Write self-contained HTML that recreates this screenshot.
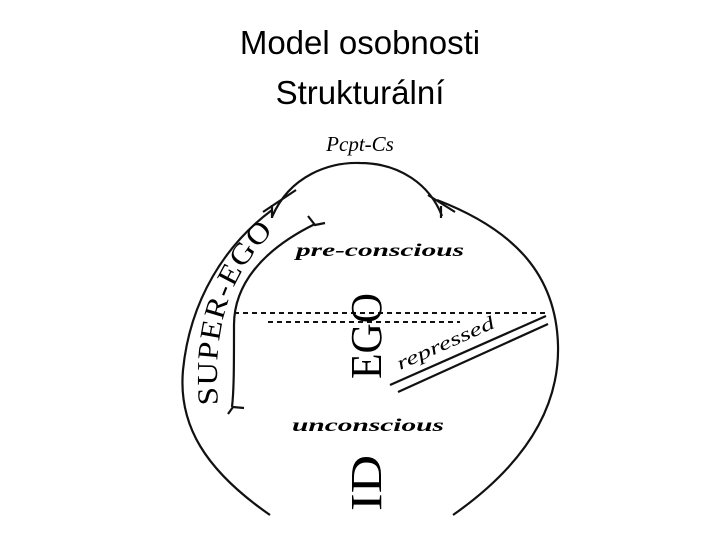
<!DOCTYPE html>
<html><head><meta charset="utf-8"><style>
html,body{margin:0;padding:0;background:#fff;}
body{width:720px;height:540px;overflow:hidden;position:relative;}
.t{position:absolute;left:0;width:720px;text-align:center;font-family:"Liberation Sans",sans-serif;font-size:33px;color:#000;}
</style></head><body>
<div class="t" style="top:24px">Model osobnosti</div>
<div class="t" style="top:74px">Strukturální</div>
<svg width="720" height="540" style="position:absolute;left:0;top:0" font-family="Liberation Serif, serif">
<g fill="none" stroke="#111" stroke-width="2.2">
<path d="M270 515 C 205 470 178 425 183 370 C 190 300 225 245 272 210"/>
<path d="M437 200 C 515 230 556 275 558 345 C 560 420 510 475 453 515"/>
<path d="M272 217 C 290 175 330 162 360 163 C 400 163 430 185 442 216"/>
<path d="M263 212 L 296 190 M 272 205 L 272 218"/>
<path d="M428 195 L 455 212 M 441 206 L 441 218"/>
<path d="M315 224 C 262 250 234 285 234 325 C 234 365 234 390 232 407"/>
<path d="M308 216 L 315 225 L 325 223 M 228 414 L 233 407 L 244 408"/>
<path d="M390 385 L 546 316 M 398 392 L 548 324"/>
</g>
<g stroke="#111" stroke-width="2" stroke-dasharray="5,4">
<line x1="234" y1="313" x2="548" y2="313"/>
<line x1="268" y1="322" x2="460" y2="322"/>
</g>
<text x="360" y="151" text-anchor="middle" font-size="21" font-style="italic">Pcpt-Cs</text>
<text x="380" y="256" text-anchor="middle" font-size="18" font-style="italic" font-weight="bold" textLength="168" lengthAdjust="spacingAndGlyphs">pre-conscious</text>
<text x="368" y="431" text-anchor="middle" font-size="18" font-style="italic" font-weight="bold" textLength="152" lengthAdjust="spacingAndGlyphs">unconscious</text>
<text transform="translate(381,336) rotate(-90)" text-anchor="middle" font-size="44" textLength="86" lengthAdjust="spacingAndGlyphs">EGO</text>
<text transform="translate(381,483) rotate(-90)" text-anchor="middle" font-size="44" textLength="56" lengthAdjust="spacingAndGlyphs">ID</text>
<text transform="translate(400,370) rotate(-24)" font-size="19" font-style="italic" textLength="105" lengthAdjust="spacingAndGlyphs">repressed</text>
<path id="sp" d="M 218 405 C 212 320 232 270 280 225" fill="none"/>
<text font-size="29" letter-spacing="1"><textPath href="#sp" textLength="190" lengthAdjust="spacingAndGlyphs">SUPER-EGO</textPath></text>
</svg>
</body></html>
